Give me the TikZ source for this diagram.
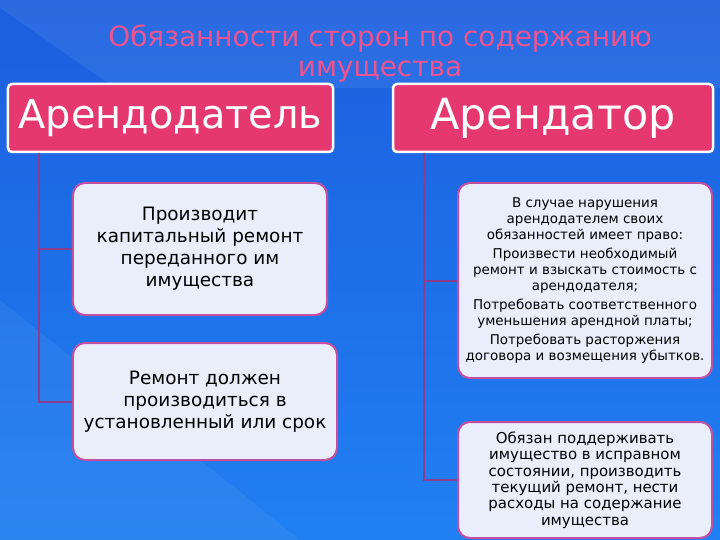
\documentclass[tikz,border=0pt]{standalone}
\usepackage{fontspec}
\setmainfont{DejaVu Sans}

\definecolor{sfondoA}{RGB}{28,94,222}
\definecolor{sfondoB}{RGB}{32,128,242}
\definecolor{rosa}{RGB}{230,56,112}
\definecolor{titolo}{RGB}{236,84,146}
\definecolor{bordo}{RGB}{196,78,160}
\definecolor{linea}{RGB}{140,62,142}
\definecolor{chiaro}{RGB}{234,238,250}

\tikzset{
  intest/.style={draw=white, line width=2.5bp, fill=rosa, rounded corners=4bp,
    text=white, font=\fontsize{40}{44}\selectfont, minimum height=68bp, inner sep=0pt},
  riquadro/.style={draw=bordo, line width=2bp, fill=chiaro, rounded corners=12bp,
    align=center, inner sep=0pt, font=\fontsize{18.5}{22}\selectfont},
  piccolo/.style={font=\fontsize{13.5}{16}\selectfont},
  medio/.style={font=\fontsize{15}{16.5}\selectfont},
  collega/.style={draw=linea, line width=2bp}
}

\begin{document}
\begin{tikzpicture}[x=1bp, y=-1bp]
        % Sfondo
        \useasboundingbox (0,0) rectangle (720,540);
        \shade[top color=sfondoA, bottom color=sfondoB] (0,0) rectangle (720,540);
        \fill[white, opacity=0.07] (0,0) -- (0,8) -- (115,88) -- (720,88) -- (720,0) -- cycle;
        \fill[white, opacity=0.05] (0,300) -- (0,540) -- (300,540) -- cycle;

        % Titolo
        \node[text=titolo, align=center, font=\fontsize{28}{30}\selectfont] (titolo) at (380,54)
          {Обязанности сторон по содержанию\\имущества};

        % Intestazioni
        \node[intest, minimum width=325bp] (hdL) at (170.5,118) {Арендодатель};
        \node[intest, minimum width=320bp, font=\fontsize{43}{46}\selectfont] (hdR) at (553,118) {Арендатор};

        % Riquadri di sinistra
        \node[riquadro, minimum width=254bp, minimum height=132bp] (boxL1) at (200,249)
          {Производит\\капитальный ремонт\\переданного им\\имущества};
        \node[riquadro, minimum width=264bp, minimum height=117bp] (boxL2) at (205,401.5)
          {Ремонт должен\\производиться в\\установленный или срок};

        % Riquadri di destra
        \node[riquadro, piccolo, minimum width=254bp, minimum height=195bp] (boxR1) at (585,280.5)
          {В случае нарушения\\арендодателем своих\\обязанностей имеет право:\\[3bp]
           Произвести необходимый\\ремонт и взыскать стоимость с\\арендодателя;\\[3bp]
           Потребовать соответственного\\уменьшения арендной платы;\\[3bp]
           Потребовать расторжения\\договора и возмещения убытков.};
        \node[riquadro, medio, minimum width=254bp, minimum height=116bp] (boxR2) at (585,480)
          {Обязан поддерживать\\имущество в исправном\\состоянии, производить\\текущий  ремонт, нести\\расходы на содержание\\имущества};

        % Collegamenti
        \draw[collega] ([xshift=32bp]hdL.south west) |- (boxL1.west);
        \draw[collega] ([xshift=32bp]hdL.south west) |- (boxL2.west);
        \draw[collega] ([xshift=32bp]hdR.south west) |- (boxR1.west);
        \draw[collega] ([xshift=32bp]hdR.south west) |- (boxR2.west);
\end{tikzpicture}
\end{document}
